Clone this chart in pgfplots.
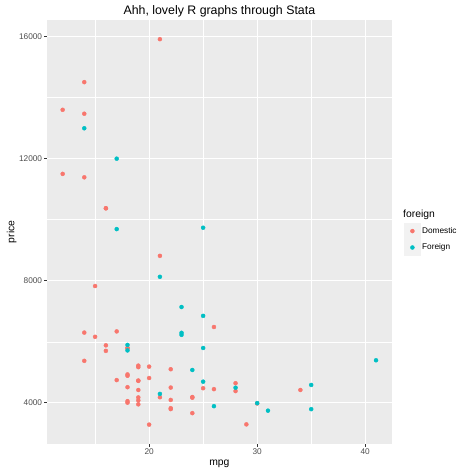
\documentclass[border=0pt]{standalone}
\usepackage{fontspec}
\setmainfont{Liberation Sans}
\usepackage{pgfplots}
\pgfplotsset{compat=1.18}
\definecolor{dom}{HTML}{F8766D}
\definecolor{frn}{HTML}{00BFC4}
\definecolor{ggbg}{HTML}{EBEBEB}
\definecolor{legkey}{HTML}{F2F2F2}
\definecolor{grey20}{HTML}{333333}
\definecolor{grey30}{HTML}{4D4D4D}
\pgfplotstableread{
mpg price
22 4099
17 4749
22 3799
20 4816
15 7827
18 5788
26 4453
20 5189
16 10372
19 4082
14 11385
14 14500
21 15906
29 3299
16 5705
22 4504
22 5104
24 3667
19 3955
30 3984
18 4010
16 5886
17 6342
28 4389
21 4187
12 11497
12 13594
14 13466
22 3829
14 5379
15 6165
18 4516
14 6303
20 3291
21 8814
19 5172
19 4733
18 4890
19 4181
24 4195
16 10371
28 4647
34 4425
25 4482
26 6486
18 4060
18 5798
18 4934
19 5222
19 4723
19 4424
24 4172
}\domestic
\pgfplotstableread{
mpg price
17 9690
23 6295
25 9735
23 6229
35 4589
24 5079
21 8129
21 4296
25 5799
28 4499
30 3995
14 12990
26 3895
35 3798
18 5899
31 3748
18 5719
23 7140
41 5397
25 4697
25 6850
17 11995
}\foreign
\begin{document}
\begin{tikzpicture}
\path[use as bounding box] (0bp,0bp) rectangle (474bp,474bp);
\begin{axis}[
  at={(47bp,30.1bp)}, anchor=south west,
  scale only axis, width=344.7bp, height=424bp,
  xmin=10.55, xmax=42.45, ymin=2660.25, ymax=16536.75,
  axis background/.style={fill=ggbg},
  axis line style={draw=none},
  tick pos=left, tick align=outside,
  major tick length=2.7bp, minor tick length=0pt,
  tick style={color=grey20, line width=1bp},
  xtick={20,30,40}, minor xtick={15,25,35},
  ytick={4000,8000,12000,16000}, minor ytick={6000,10000,14000},
  scaled y ticks=false,
  /pgf/number format/assume math mode=true,
  yticklabel={\pgfmathprintnumber[fixed,1000 sep={}]{\tick}},
  grid=both,
  major grid style={white, line width=1.07bp},
  minor grid style={white, line width=0.53bp},
  ticklabel style={font=\fontsize{8.3}{10}\selectfont, text=grey30, inner sep=0pt},
  xticklabel style={anchor=north, yshift=-2bp},
  yticklabel style={anchor=east, xshift=-2bp},
  title={Ahh, lovely R graphs through Stata},
  title style={at={(axis description cs:0.5,0.99854)}, anchor=base, inner sep=0pt, font=\fontsize{12.4}{14}\selectfont},
  xlabel={mpg},
  xlabel style={at={(axis description cs:0.5,-0.0498)}, anchor=base, inner sep=0pt, font=\fontsize{10.4}{12}\selectfont},
  ylabel={price},
  ylabel style={at={(axis description cs:-0.0943,0.5)}, anchor=base, rotate=0, inner sep=0pt, font=\fontsize{10.4}{12}\selectfont},
  legend style={at={(axis description cs:1.0357,0.5217)}, anchor=north west,
    draw=none, fill=none, inner sep=0pt, row sep=0pt, column sep=0pt,
    font=\fontsize{8.3}{10}\selectfont, nodes={inner xsep=1.5bp, inner ysep=0pt}},
  legend cell align=left,
  legend image code/.code={
    \fill[legkey] (0bp,-8bp) rectangle (16bp,8bp);
    \draw plot coordinates {(8bp,0bp)};
  },
  clip=false,
]
\addplot[only marks, mark=*, mark size=2bp, color=dom, mark options={draw=dom, fill=dom}] table[x=mpg, y=price] {\domestic};
\addlegendentry{Domestic}
\addplot[only marks, mark=*, mark size=2bp, color=frn, mark options={draw=frn, fill=frn}] table[x=mpg, y=price] {\foreign};
\addlegendentry{Foreign}
\node[anchor=base west, inner sep=0pt, font=\fontsize{10.4}{12}\selectfont] at (axis description cs:1.0328,0.535) {foreign};
\end{axis}
\end{tikzpicture}
\end{document}
